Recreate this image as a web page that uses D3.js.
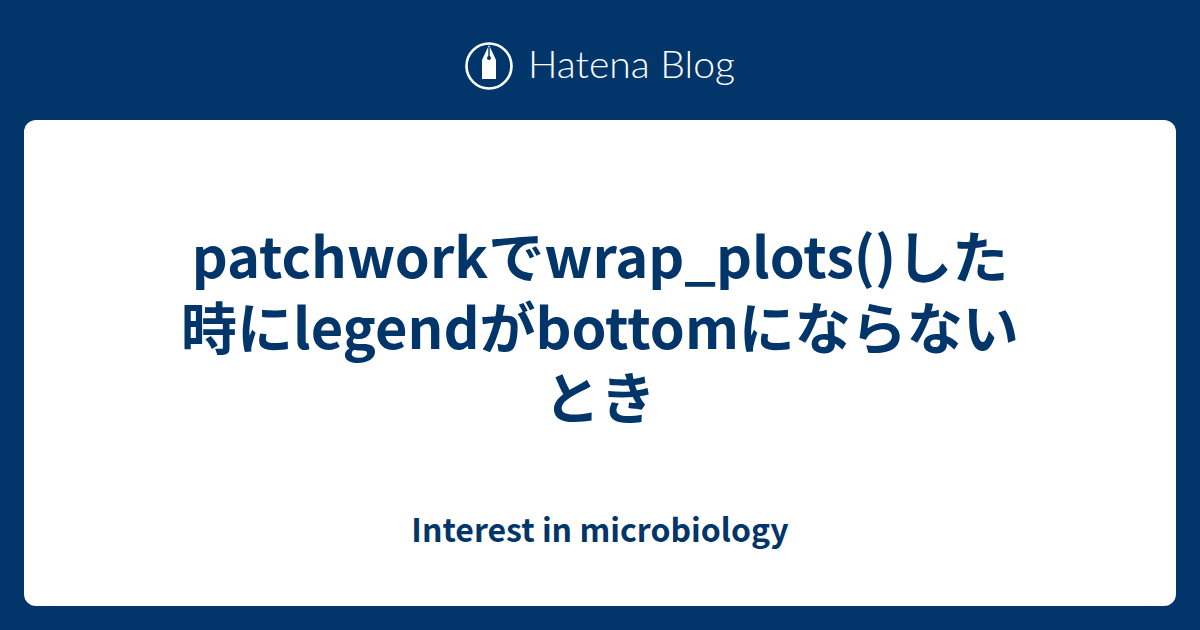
<!DOCTYPE html>
<html lang="ja">
<head>
    <meta charset="UTF-8">
    <title>Hatena Blog card</title>
    <style>
        html, body { margin: 0; padding: 0; background: #02356a; }
        svg { display: block; }
    </style>
</head>
<body>
<script src="https://d3js.org/d3.v7.min.js"></script>
<script>
    // text content of the card
    const titleLines = ["patchworkでwrap_plots()した", "時にlegendがbottomにならない", "とき"];
    const blogName = ["Interest in microbiology"];
    const brand = ["Hatena Blog"];

    const width = 1200;
    const height = 630;
    const navy = "#02356a";
    const card = {left: 24, top: 120, right: 1176, bottom: 606, r: 12};

    const svg = d3.select("body")
        .append("svg")
        .attr("width", width)
        .attr("height", height);

    svg.append("rect")
        .attr("width", width)
        .attr("height", height)
        .attr("fill", navy);

    // white card
    svg.append("rect")
        .attr("x", card.left)
        .attr("y", card.top)
        .attr("width", card.right - card.left)
        .attr("height", card.bottom - card.top)
        .attr("rx", card.r)
        .attr("fill", "#ffffff");

    // logo: circle with pen nib
    const logo = svg.append("g")
        .attr("transform", "translate(489,66)");

    logo.append("circle")
        .attr("r", 22.5)
        .attr("fill", "none")
        .attr("stroke", "#ffffff")
        .attr("stroke-width", 2.6);

    logo.append("path")
        .attr("d", "M0,-21 L7,-6 L7,13 L-7,13 L-7,-6 Z")
        .attr("fill", "#ffffff");

    logo.append("line")
        .attr("x1", 0).attr("y1", -19)
        .attr("x2", 0).attr("y2", -9)
        .attr("stroke", navy)
        .attr("stroke-width", 1.4);

    logo.append("circle")
        .attr("cy", -8)
        .attr("r", 2)
        .attr("fill", navy);

    svg.selectAll(".brand")
        .data(brand)
        .enter()
        .append("text")
        .attr("class", "brand")
        .attr("x", 528)
        .attr("y", 78)
        .attr("fill", "#ffffff")
        .attr("font-family", "Lato, 'Open Sans', sans-serif")
        .attr("font-weight", 300)
        .attr("font-size", "37px")
        .attr("textLength", 207)
        .attr("lengthAdjust", "spacingAndGlyphs")
        .text(d => d);

    // title lines placed with a linear scale on line index
    const y = d3.scaleLinear()
        .domain([0, titleLines.length - 1])
        .range([278, 419]);

    svg.selectAll(".title")
        .data(titleLines)
        .enter()
        .append("text")
        .attr("class", "title")
        .attr("x", width / 2)
        .attr("y", (d, i) => y(i))
        .attr("text-anchor", "middle")
        .attr("fill", navy)
        .attr("font-family", "'Noto Sans CJK JP', 'Noto Sans', sans-serif")
        .attr("font-weight", 700)
        .attr("font-size", "56px")
        .text(d => d);

    svg.selectAll(".blog")
        .data(blogName)
        .enter()
        .append("text")
        .attr("class", "blog")
        .attr("x", width / 2)
        .attr("y", 542)
        .attr("text-anchor", "middle")
        .attr("fill", navy)
        .attr("font-family", "'Noto Sans CJK JP', 'Noto Sans', sans-serif")
        .attr("font-weight", 700)
        .attr("font-size", "32px")
        .text(d => d);
</script>
</body>
</html>
